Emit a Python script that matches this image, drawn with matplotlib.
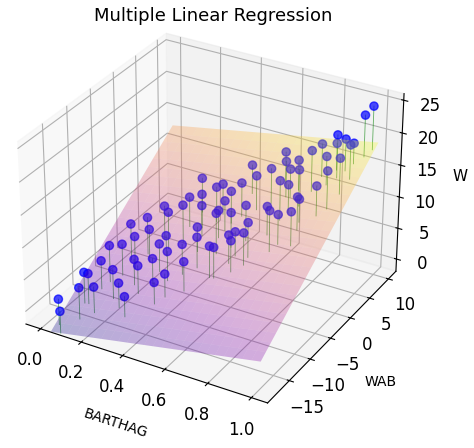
import numpy as np
import matplotlib
matplotlib.use("Agg")
import matplotlib.pyplot as plt

barthag = [0.02,0.05,0.08,0.10,0.12,0.15,0.18,0.20,0.22,0.25,0.27,0.30,0.32,0.35,0.37,0.40,0.42,0.45,0.47,0.50,
           0.52,0.55,0.57,0.60,0.62,0.65,0.67,0.70,0.72,0.75,0.77,0.80,0.82,0.85,0.87,0.90,0.92,0.95,0.97,0.99,
           0.14,0.24,0.34,0.44,0.54,0.64,0.74,0.84,0.94,0.30,0.40,0.50,0.60,0.70,0.80,0.90,0.28,0.48,0.68,0.88,
           0.10,0.18,0.26,0.36,0.46,0.56,0.66,0.76,0.86,0.96,0.33,0.43,0.53,0.63,0.73,0.83,0.58,0.78,0.38,0.93]
wab = [-17,-18,-14,-16,-12,-15,-10,-13,-9,-14,-8,-12,-6,-11,-5,-10,-3,-9,-2,-8,
       -4,-6,-1,-5,0,-4,1,-6,2,-1,0,1,3,-2,4,5,6,3,8,9,
       -11,-7,-9,-4,-2,-6,2,-1,7,-15,-13,-11,-9,-7,-4,0,-5,-1,4,6,
       -14,-8,-11,-3,-6,2,-8,3,-4,5,-7,-12,-3,-7,-3,5,-9,-5,-1,1]
w = [1,0,4,3,5,3,7,5,8,4,9,6,11,7,12,8,13,9,14,10,
     12,13,15,13,16,14,17,13,18,17,16,18,20,16,19,22,21,20,24,25,
     7,10,8,12,14,11,17,15,20,3,5,8,10,12,14,17,11,14,18,20,
     4,9,6,12,10,16,11,18,15,21,8,6,13,11,14,20,10,15,14,19]
coef = [7.0, 6.0, 0.6]  # intercept, BARTHAG, WAB

B = np.array(barthag); Wb = np.array(wab); Wv = np.array(w)
fig = plt.figure(figsize=(4.74, 4.48), dpi=100)
ax = fig.add_axes([-0.05, 0.04, 0.98, 0.96], projection='3d')
gx, gy = np.meshgrid(np.linspace(0, 1, 25), np.linspace(-18, 10, 25))
gz = coef[0] + coef[1]*gx + coef[2]*gy
ax.plot_surface(gx, gy, gz, cmap='plasma', alpha=0.3, linewidth=0, antialiased=True,
                edgecolor='none', shade=False)
pred = coef[0] + coef[1]*B + coef[2]*Wb
for xi, yi, zi, pi in zip(B, Wb, Wv, pred):
    ax.plot([xi, xi], [yi, yi], [zi, pi], color='green', lw=0.6, alpha=0.6)
ax.scatter(B, Wb, Wv, color='blue', s=35, alpha=0.7, depthshade=True)
ax.set_xlabel('BARTHAG', fontsize=10, labelpad=10)
ax.set_ylabel('WAB', fontsize=10, labelpad=10)
ax.set_zlabel('W', fontsize=11, labelpad=6)
ax.set_xticks([0.0,0.2,0.4,0.6,0.8,1.0])
ax.set_yticks([-15,-10,-5,0,5,10])
ax.set_zticks([0,5,10,15,20,25])
ax.set_zlim(-2, 26)
ax.tick_params(labelsize=12)
fig.text(0.45, 0.965, 'Multiple Linear Regression', fontsize=13, ha='center', va='center')
fig.savefig('out.png', dpi=100)
